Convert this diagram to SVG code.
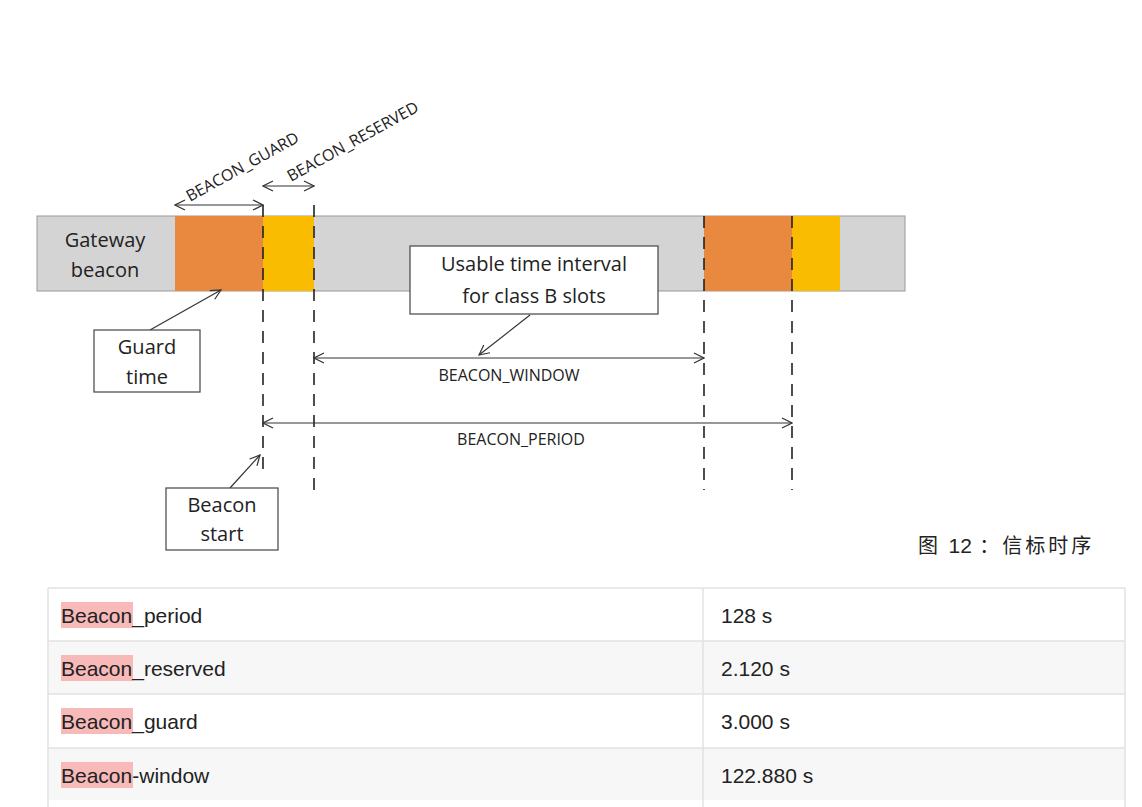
<svg xmlns="http://www.w3.org/2000/svg" width="1142" height="807" viewBox="0 0 1142 807">
<style>
text{font-family:"Open Sans","Liberation Sans",sans-serif;fill:#222}
.d{stroke:#222;stroke-width:1.6;stroke-dasharray:12,9;fill:none}
.a{stroke:#333;stroke-width:1.2;fill:none}
.box{fill:#fff;stroke:#444;stroke-width:1.2}
.t{font-family:"Liberation Sans",sans-serif;font-size:21px}
.cell{stroke:#e2e2e2;stroke-width:1.5}
</style>
<defs>
<marker id="ar" viewBox="0 0 12 12" refX="11" refY="6" markerWidth="12" markerHeight="12" markerUnits="userSpaceOnUse" orient="auto-start-reverse"><path d="M1,1 L11,6 L1,11" fill="none" stroke="#333" stroke-width="1.2"/></marker>
</defs>
<g id="bar">
<rect x="37" y="216" width="868" height="75" fill="#d4d4d4" stroke="#999"/>
<rect x="175" y="216" width="88" height="75" fill="#e8893f"/>
<rect x="263" y="216" width="51" height="75" fill="#f9bc00"/>
<rect x="704" y="216" width="88" height="75" fill="#e8893f"/>
<rect x="792" y="216" width="48" height="75" fill="#f9bc00"/>
<text x="105" y="247" font-size="20" text-anchor="middle">Gateway</text>
<text x="105" y="277" font-size="20" text-anchor="middle">beacon</text>
</g>
<g id="connectors">
<line class="d" x1="263" y1="205" x2="263" y2="470"/>
<line class="d" x1="314" y1="205" x2="314" y2="495"/>
<line class="d" x1="704" y1="216" x2="704" y2="490"/>
<line class="d" x1="792" y1="216" x2="792" y2="490"/>
<line class="a" x1="175" y1="205" x2="263" y2="205" marker-start="url(#ar)" marker-end="url(#ar)"/>
<line class="a" x1="263" y1="186" x2="314" y2="186" marker-start="url(#ar)" marker-end="url(#ar)"/>
<line class="a" x1="314" y1="358" x2="704" y2="358" marker-start="url(#ar)" marker-end="url(#ar)"/>
<line class="a" x1="263" y1="423" x2="792" y2="423" marker-start="url(#ar)" marker-end="url(#ar)"/>
<line class="a" x1="150" y1="330" x2="221" y2="290" marker-end="url(#ar)"/>
<line class="a" x1="530" y1="315" x2="479" y2="355" marker-end="url(#ar)"/>
<line class="a" x1="230" y1="488" x2="260" y2="455" marker-end="url(#ar)"/>
</g>
<g id="labels">
<text transform="translate(190,202) rotate(-29)" font-size="16">BEACON_GUARD</text>
<text transform="translate(291,182) rotate(-29)" font-size="16">BEACON_RESERVED</text>
<text x="509" y="381" font-size="16" text-anchor="middle">BEACON_WINDOW</text>
<text x="521" y="445" font-size="16" text-anchor="middle">BEACON_PERIOD</text>
</g>
<g id="usable">
<rect class="box" x="410" y="246" width="248" height="68"/>
<text x="534" y="271" font-size="20" text-anchor="middle">Usable time interval</text>
<text x="534" y="303" font-size="20" text-anchor="middle">for class B slots</text>
</g>
<g id="guard">
<rect class="box" x="94" y="330" width="106" height="62"/>
<text x="147" y="354" font-size="20" text-anchor="middle">Guard</text>
<text x="147" y="384" font-size="20" text-anchor="middle">time</text>
</g>
<g id="start">
<rect class="box" x="166" y="488" width="112" height="62"/>
<text x="222" y="512" font-size="20" text-anchor="middle">Beacon</text>
<text x="222" y="541" font-size="20" text-anchor="middle">start</text>
</g>
<text x="918" y="553" font-size="20" letter-spacing="3" style="font-family:'Noto Sans CJK SC',sans-serif">图 <tspan style="font-family:'Liberation Sans',sans-serif" font-size="21" letter-spacing="0">12</tspan> ：信标时序</text>
<g id="table">
<rect x="48" y="641" width="1077" height="53" fill="#f7f7f7"/>
<rect x="48" y="748" width="1077" height="52" fill="#f7f7f7"/>
<line class="cell" x1="48" y1="588" x2="1125" y2="588"/>
<line class="cell" x1="48" y1="641" x2="1125" y2="641"/>
<line class="cell" x1="48" y1="694" x2="1125" y2="694"/>
<line class="cell" x1="48" y1="748" x2="1125" y2="748"/>
<line class="cell" x1="48" y1="588" x2="48" y2="807"/>
<line class="cell" x1="703" y1="588" x2="703" y2="807"/>
<line class="cell" x1="1125" y1="588" x2="1125" y2="807"/>
<rect x="61" y="602" width="72" height="26" fill="#f8b9b9"/>
<rect x="61" y="655" width="72" height="26" fill="#f8b9b9"/>
<rect x="61" y="708" width="72" height="26" fill="#f8b9b9"/>
<rect x="61" y="762" width="72" height="26" fill="#f8b9b9"/>
<text class="t" x="61" y="623">Beacon_period</text>
<text class="t" x="61" y="676">Beacon_reserved</text>
<text class="t" x="61" y="729">Beacon_guard</text>
<text class="t" x="61" y="783">Beacon-window</text>
<text class="t" x="721" y="623">128 s</text>
<text class="t" x="721" y="676">2.120 s</text>
<text class="t" x="721" y="729">3.000 s</text>
<text class="t" x="721" y="783">122.880 s</text>
</g>
</svg>
